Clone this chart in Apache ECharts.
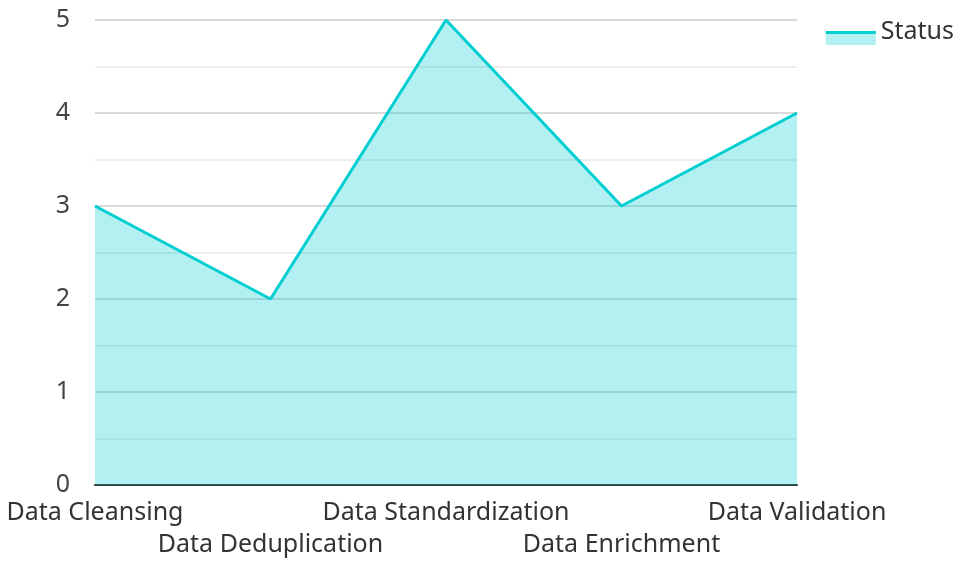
<!DOCTYPE html>
<html><head><meta charset="utf-8">
<script src="https://cdn.jsdelivr.net/npm/echarts@6/dist/echarts.min.js"></script>
<style>html,body{margin:0;padding:0;background:#fff}#c{width:955px;height:561px}</style>
</head><body><div id="c"></div>
<script>
var categories = ['Data Cleansing','Data Deduplication','Data Standardization','Data Enrichment','Data Validation'];
var statusValues = [3, 2, 5, 3, 4];
var yTicks = [0, 1, 2, 3, 4, 5];
var chart = echarts.init(document.getElementById('c'));
var iconFill = new echarts.graphic.LinearGradient(0, 0, 0, 1, [
  { offset: 0, color: 'rgba(255,255,255,0)' },
  { offset: 0.464, color: 'rgba(255,255,255,0)' },
  { offset: 0.464, color: '#00CED1' },
  { offset: 0.571, color: '#00CED1' },
  { offset: 0.571, color: '#B2F0F1' },
  { offset: 0.964, color: '#B2F0F1' },
  { offset: 0.964, color: 'rgba(255,255,255,0)' },
  { offset: 1, color: 'rgba(255,255,255,0)' }
]);
chart.setOption({
  animation: false,
  textStyle: { fontFamily: 'Noto Sans' },
  legend: {
    right: 1, top: 18, padding: 0, itemWidth: 50, itemHeight: 28, itemGap: 10,
    data: [{ name: 'Status', icon: 'rect', itemStyle: { color: iconFill, borderWidth: 0 } }],
    textStyle: { fontSize: 25, color: '#333', fontFamily: 'Noto Sans' }
  },
  grid: { left: 95, right: 158, top: 20, bottom: 74, containLabel: false },
  xAxis: {
    type: 'category', data: categories, boundaryGap: false,
    axisLine: { lineStyle: { color: '#333', width: 2 } },
    axisTick: { show: false },
    axisLabel: {
      interval: 0, fontSize: 25, color: '#333', lineHeight: 32, margin: 12,
      formatter: function (v, i) { return i % 2 === 1 ? '\n' + v : v; }
    }
  },
  yAxis: {
    type: 'value', min: yTicks[0], max: yTicks[yTicks.length - 1], interval: 1,
    axisLine: { show: false }, axisTick: { show: false },
    axisLabel: { fontSize: 25, color: '#444', margin: 25 },
    splitLine: { lineStyle: { color: '#ccc', width: 1.5 } },
    minorTick: { show: false, splitNumber: 2 },
    minorSplitLine: { show: true, lineStyle: { color: '#e8e8e8', width: 1.5 } }
  },
  series: [{
    name: 'Status', type: 'line', data: statusValues,
    symbol: 'none', color: '#00CED1',
    lineStyle: { width: 3, color: '#00CED1' },
    areaStyle: { color: '#00CED1', opacity: 0.3 }
  }]
});
</script></body></html>
